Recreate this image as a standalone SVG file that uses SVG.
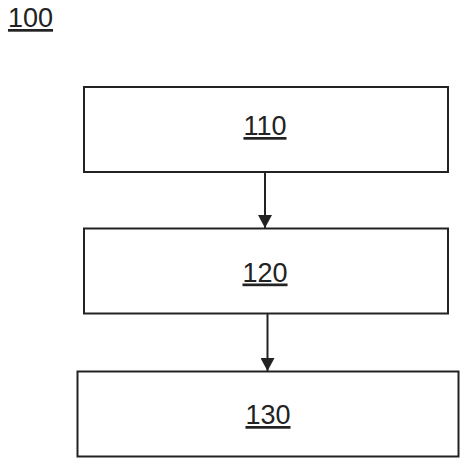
<svg xmlns="http://www.w3.org/2000/svg" width="474" height="469" viewBox="0 0 474 469">
<defs>
<style>
.box{fill:#fff;stroke:#222;stroke-width:2}
.lbl{font-family:"Liberation Sans",Arial,sans-serif;font-size:27px;fill:#222;text-anchor:middle;text-decoration:underline}
.conn{stroke:#222;stroke-width:2;fill:none}
</style>
<marker id="ah" markerWidth="14" markerHeight="14" refX="13" refY="7" orient="auto" markerUnits="userSpaceOnUse">
<path d="M0,0 L13,7 L0,14 Z" fill="#222"/>
</marker>
</defs>
<rect width="474" height="469" fill="#fff"/>
<g id="label100"><text x="30.5" y="27" class="lbl">100</text></g>
<g id="node110"><rect class="box" x="84" y="87" width="364" height="85"/><text x="265" y="135" class="lbl">110</text></g>
<g id="node120"><rect class="box" x="84" y="228.5" width="364" height="85"/><text x="265" y="281.5" class="lbl">120</text></g>
<g id="node130"><rect class="box" x="77.5" y="371.5" width="381" height="85"/><text x="268" y="424" class="lbl">130</text></g>
<g id="connectors">
<line class="conn" x1="265" y1="172" x2="265" y2="228" marker-end="url(#ah)"/>
<line class="conn" x1="267.5" y1="313.5" x2="267.5" y2="371" marker-end="url(#ah)"/>
</g>
</svg>
